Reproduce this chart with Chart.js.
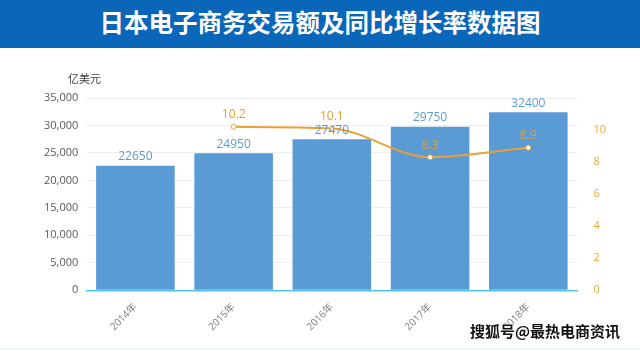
<!DOCTYPE html>
<html><head><meta charset="utf-8">
<script src="https://cdn.jsdelivr.net/npm/chart.js@4/dist/chart.umd.min.js"></script>
<style>
html,body{margin:0;padding:0;width:640px;height:351px;overflow:hidden;background:#fff;font-family:"Noto Sans CJK SC","Noto Sans",sans-serif;}
#hdr{position:absolute;left:0;top:0;width:640px;height:48px;background:#0a66b8;color:#fff;font-weight:bold;font-size:24.5px;text-align:center;line-height:44px;}
#wrap{position:absolute;left:0;top:50px;width:640px;height:298px;}
#unit{position:absolute;left:68px;top:70px;font-size:11px;color:#404040;}
#wm{position:absolute;left:470px;top:320px;font-size:15px;font-weight:bold;color:#111;text-shadow:0 0 2px #fff,0 0 2px #fff;}
#bl{position:absolute;left:0;top:348px;width:640px;height:2px;background:#e6f7fb;}
</style></head><body>
<div id="hdr">日本电子商务交易额及同比增长率数据图</div>
<div id="wrap"><canvas id="c"></canvas></div>
<div id="unit">亿美元</div>
<div id="wm">搜狐号@最热电商资讯</div>
<div id="bl"></div>
<script>
const categories = ['2014年','2015年','2016年','2017年','2018年'];
const tradeValues = [22650, 24950, 27470, 29750, 32400];
const growthRates = [null, 10.2, 10.1, 8.3, 8.9];
const leftTicks = [0,5000,10000,15000,20000,25000,30000,35000];

const labelPlugin = {
  id:'labels',
  afterDatasetsDraw(chart){
    const ctx = chart.ctx;
    ctx.save();
    ctx.textAlign='center';
    ctx.textBaseline='bottom';
    ctx.font='12px "Open Sans","Noto Sans",sans-serif';
    const mb = chart.getDatasetMeta(1);
    mb.data.forEach((el,i)=>{
      ctx.fillStyle='#5b9bd5';
      ctx.fillText(String(tradeValues[i]), el.x, el.y-3);
    });
    const ml = chart.getDatasetMeta(0);
    ml.data.forEach((el,i)=>{
      if(growthRates[i]==null) return;
      ctx.fillStyle='#e0a030';
      ctx.fillText(growthRates[i].toFixed(1), el.x, el.y-6);
    });
    ctx.restore();
  }
};

new Chart(document.getElementById('c'),{
  data:{
    labels:categories,
    datasets:[
      {type:'line',label:'增长率',data:growthRates,yAxisID:'y1',borderColor:'#e8a038',borderWidth:2,
       pointRadius:2.5,pointBackgroundColor:'#fff',pointBorderColor:'#e8a038',pointBorderWidth:1,
       tension:0.35,order:0,cubicInterpolationMode:'monotone'},
      {type:'bar',label:'交易额',data:tradeValues,yAxisID:'y',backgroundColor:'#5b9bd5',
       categoryPercentage:0.8,barPercentage:1.0,order:1}
    ]
  },
  options:{
    responsive:true,maintainAspectRatio:false,animation:false,
    layout:{padding:{top:48,left:36,right:26,bottom:12}},
    plugins:{legend:{display:false},tooltip:{enabled:false}},
    scales:{
      x:{grid:{display:false},border:{color:'#4fc3ea',width:1.5},
         ticks:{minRotation:45,maxRotation:45,color:'#7f7f7f',font:{size:10,family:'"Open Sans","Noto Sans CJK SC",sans-serif'}}},
      y:{position:'left',min:0,max:35000,
         afterBuildTicks(ax){ax.ticks=leftTicks.map(v=>({value:v}));},
         grid:{color:'#efefef',drawTicks:false},border:{display:false},
         ticks:{padding:8,color:'#595959',font:{size:11,family:'"Open Sans","Noto Sans",sans-serif'},
           callback:v=>v.toLocaleString('en-US')}},
      y1:{position:'right',min:0,max:12,
         grid:{display:false},border:{display:false},
         ticks:{stepSize:2,padding:8,color:'#f0a830',font:{size:11,family:'"Open Sans","Noto Sans",sans-serif'},
           callback:v=>v>10?'':v}}
    }
  },
  plugins:[labelPlugin]
});
</script>
</body></html>
